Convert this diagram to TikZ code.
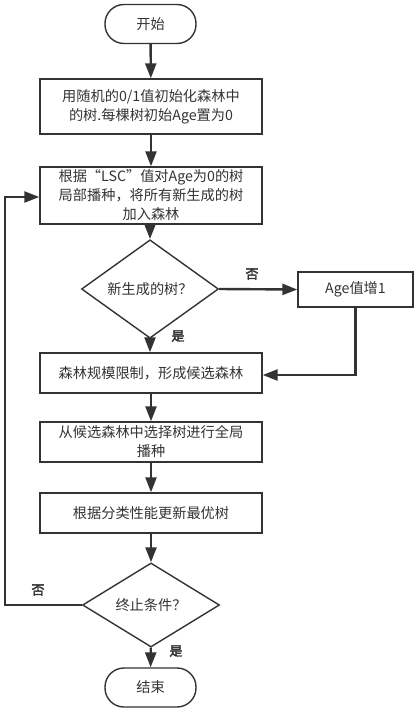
\documentclass[tikz,border=0pt]{standalone}
\usepackage{fontspec}
\setmainfont{Noto Sans CJK SC}
\newfontfamily\labfont{Noto Sans CJK SC}[FakeBold=3]
\usetikzlibrary{shapes.geometric,arrows.meta}
\definecolor{ink}{HTML}{333333}
\begin{document}
\begin{tikzpicture}[x=1pt,y=-1pt,
  every node/.style={font=\fontsize{14.2}{19}\selectfont, text=ink},
  procbox/.style={draw=ink, line width=1.4pt, rectangle, minimum width=222pt, align=center, inner sep=2pt},
  termbox/.style={draw=ink, line width=1.4pt, rectangle, rounded corners=19pt, minimum width=91pt, minimum height=39pt},
  decbox/.style={draw=ink, line width=1.4pt, diamond, minimum width=137pt, minimum height=59pt, inner sep=0pt},
  conn/.style={draw=ink, line width=2.4pt, -{Triangle[length=15pt,width=11pt]}},
  lab/.style={font=\fontsize{13}{13}\selectfont\labfont}
]
\useasboundingbox (0,0) rectangle (416,712);
\node[termbox] (start) at (150.5,24) {开始};
\node[procbox, minimum height=55pt] (b1) at (151,106.5) {用随机的0/1值初始化森林中\\的树.每棵树初始Age置为0};
\node[procbox, minimum height=57pt] (b2) at (151,195.5) {根据“LSC”值对Age为0的树\\局部播种，将所有新生成的树\\加入森林};
\node[decbox] (d1) at (150,289) {新生成的树？};
\node[procbox, minimum width=115pt, minimum height=35pt] (age) at (355.5,289.5) {Age值增1};
\node[procbox, minimum height=40pt] (b3) at (151,373) {森林规模限制，形成候选森林};
\node[procbox, minimum height=40pt] (b4) at (151,442) {从候选森林中选择树进行全局\\播种};
\node[procbox, minimum height=40pt] (b5) at (151,513) {根据分类性能更新最优树};
\node[decbox] (d2) at (151,605) {终止条件？};
\node[termbox] (end) at (150.5,687.5) {结束};
\coordinate (agecorner) at (355.5,375);
\coordinate (loopA) at (5,605);
\coordinate (loopB) at (5,197);

\draw[conn] (start) -- (b1);
\draw[conn] (b1) -- (b2);
\draw[conn] (b2.south -| d1.north) -- (d1);
\draw[conn] (d1.east) -- (age.west);
\draw[conn] (d1.south) -- (b3.north -| d1.south);
\draw[conn] (age.south) -- (agecorner) -- (b3.east |- agecorner);
\draw[conn] (b3) -- (b4);
\draw[conn] (b4) -- (b5);
\draw[conn] (b5.south -| d2.north) -- (d2);
\draw[conn] (d2) -- (end);
\draw[conn] (d2.west) -- (loopA) -- (loopB) -- (b2.west |- loopB);

\node[lab] (l1) at (252,274) {否};
\node[lab] (l2) at (178,336) {是};
\node[lab] (l3) at (38,590) {否};
\node[lab] (l4) at (176,651) {是};
\end{tikzpicture}
\end{document}
